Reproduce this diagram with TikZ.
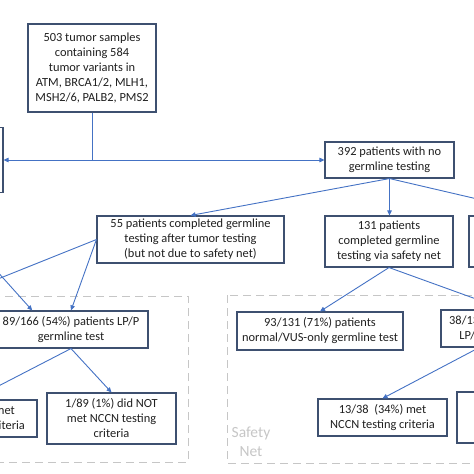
\documentclass[tikz,border=0pt]{standalone}
\usepackage{fontspec}
\setmainfont{Carlito}
\usetikzlibrary{arrows.meta,calc}
\definecolor{rahmen}{RGB}{62,80,112}
\definecolor{pfeil}{RGB}{68,114,196}
\definecolor{netz}{RGB}{198,198,198}

\begin{document}
\begin{tikzpicture}[x=1pt, y=-1pt, font=\fontsize{12.4}{15}\selectfont,
  box/.style={draw=rahmen, line width=1.1pt, align=center, inner sep=2pt, text=black!88},
  ln/.style={draw=pfeil, line width=0.9pt},
  arr/.style={ln, -{Triangle[length=5pt, width=4.5pt]}},
  frame/.style={draw=netz, line width=0.9pt, dash pattern=on 8pt off 5pt}]
\useasboundingbox (0,0) rectangle (474,474);
\clip (0,0) rectangle (474,474);
% safety net frames
\draw[frame] (-20,296) rectangle (188,462);
\draw[frame] (227,295) rectangle (500,463);
\node[text=netz, font=\fontsize{15.5}{19}\selectfont, align=center] (sn) at (251,442) {Safety\\Net};
% boxes
\foreach \n/\x/\y/\w/\h/\t in {%
  top/92/68/128/88/{503 tumor samples\\containing 584\\tumor variants in\\ATM, BRCA1/2, MLH1,\\MSH2/6, PALB2, PMS2},
  left0/-61/160/128/65/{},
  nogerm/389.5/160/129/36/{392 patients with no\\germline testing},
  after/190.5/239.5/187/47/{55 patients completed germline\\testing after tumor testing\\(but not due to safety net)},
  safety/389/241.5/128/51/{131 patients\\completed germline\\testing via safety net},
  right0/548/241.5/158/51/{},
  lpp/71/329.5/154/37/{89/166 (54\%) patients LP/P\\germline test},
  vus/320/331/166/38/{93/131 (71\%) patients\\normal/VUS-only germline test},
  lpp2/505/328.5/128/37/{38/131 (29\%) patients\\LP/P germline test},
  metL/-27.5/418.5/129/37/{88/89 (99\%) met\\NCCN testing criteria},
  notmetL/111.5/418.5/129/51/{1/89 (1\%) did NOT\\met NCCN testing\\criteria},
  met2/382.5/417.5/129/37/{13/38~ (34\%) met\\NCCN testing criteria},
  notmet2/521.5/417.5/129/51/{}}{%
  \node[box, minimum width=\w, minimum height=\h] (\n) at (\x,\y) {\t};}
% connectors
\draw[ln] (top.south) -- (top.south |- nogerm.west) coordinate (j);
\draw[arr] (j) -- (left0.east);
\draw[arr] (j) -- (nogerm.west);
\draw[arr] (nogerm.south) -- (after.north);
\draw[arr] (nogerm.south) -- (nogerm.south |- safety.north);
\draw[arr] (nogerm.south) -- (right0.north);
\coordinate (preR) at (-31,240);
\coordinate (vusL) at (-82,311);
\draw[arr] (after.west) -- (vusL);
\draw[arr] (after.west) -- (lpp.north);
\draw[arr] (preR) -- ($(lpp.north west)!0.25!(lpp.north east)$);
\draw[arr] (lpp.south) -- (metL.north);
\draw[arr] (lpp.south) -- (notmetL.north);
\draw[arr] (safety.south) -- (vus.north);
\draw[arr] (safety.south) -- (lpp2.north);
\draw[arr] ($(lpp2.south west)!0.3!(lpp2.south east)$) -- (met2.north);
\end{tikzpicture}
\end{document}
